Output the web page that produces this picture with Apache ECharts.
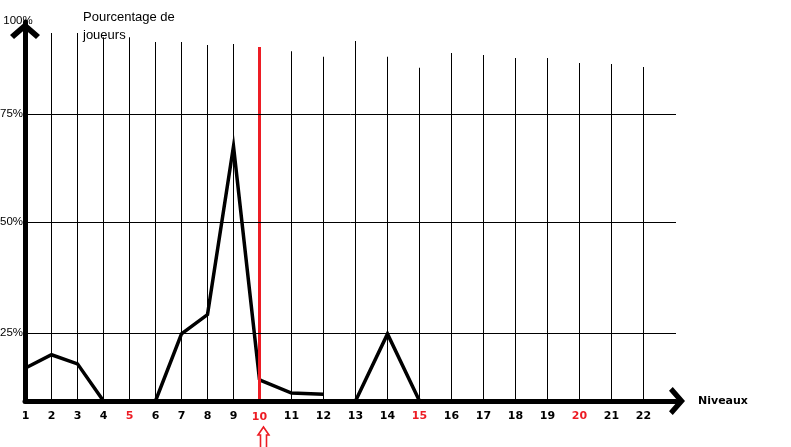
<!DOCTYPE html>
<html>
<head>
<meta charset="utf-8">
<script src="https://cdn.jsdelivr.net/npm/echarts@6/dist/echarts.min.js"></script>
<style>
html,body{margin:0;padding:0;background:#ffffff;}
#chart{width:791px;height:447px;}
</style>
</head>
<body>
<div id="chart"></div>
<script>
// ---- data ----
const levels = [1,2,3,4,5,6,7,8,9,10,11,12,13,14,15,16,17,18,19,20,21,22];
// share of players (vertical units of the drawing, 0..100 = axis foot..top)
const shareOfPlayers = [8.7, 12.2, 9.8, 0, 0, 0, 17.7, 22.8, 67.2, 5.6, 2.1, 1.8, 0, 17.7, 0, null, null, null, null, null, null, null];
const lineBreakAfter = [12];
// height of each hand-drawn vertical guide (level 1 is the axis itself)
const guideTops = [null, 97.1, 97.1, 96.0, 96.0, 94.7, 94.7, 93.9, 94.2, 93.4, 92.3, 90.8, 95.0, 90.8, 87.9, 91.8, 91.3, 90.5, 90.5, 89.2, 88.9, 88.1];
const markedLevel = 10;
const highlightLevels = [5, 10, 15, 20];
const yGuideValues = [17.9, 47.2, 75.7];
const yGuideLabels = ['25%', '50%', '75%'];
const yTopLabel = '100%';
const xName = 'Niveaux';
const titleText = 'Pourcentage de\njoueurs';

// ---- helpers ----
const BLACK = '#000000';
const RED = '#ED1C24';
const firstLevel = levels[0];
const lastLevel = levels[levels.length - 1];

function lineData(from, to) {
  const out = [];
  levels.forEach((lvl, i) => {
    if (lvl < from || lvl > to) return;
    out.push([lvl, shareOfPlayers[i]]);
    if (lineBreakAfter.indexOf(lvl) >= 0 && lvl < to) out.push([lvl, null]);
  });
  return out;
}
function guideData(from, to) {
  const out = [];
  levels.forEach((lvl, i) => {
    if (lvl < from || lvl > to || lvl === markedLevel || guideTops[i] == null) return;
    out.push([lvl, guideTops[i]]);
  });
  return out;
}
const markedTop = guideTops[levels.indexOf(markedLevel)];

// hollow red up-arrow drawn under the marked level's label
const arrowSvg = '<svg xmlns="http://www.w3.org/2000/svg" width="22" height="26" viewBox="0 0 22 26">' +
  '<polygon points="15,3 20.5,11 18,11 18,27 12,27 12,11 9.5,11" fill="#ffffff" stroke="' + RED + '" stroke-width="1.6"/></svg>';
const arrowUrl = 'data:image/svg+xml;charset=utf-8,' + encodeURIComponent(arrowSvg);

const labelStyle = {
  show: true,
  margin: 10,
  fontFamily: 'DejaVu Sans',
  fontWeight: 'bold',
  fontSize: 11,
  color: function (v) { return highlightLevels.indexOf(Number(v)) >= 0 ? RED : BLACK; }
};

const chevronUp = 'path://M15,0 L30,13 L26,17 L15,7.5 L4,17 L0,13 Z';

const chart = echarts.init(document.getElementById('chart'), null, {renderer: 'canvas'});
chart.setOption({
  animation: false,
  backgroundColor: '#ffffff',
  title: {
    text: titleText,
    left: 83,
    top: 8,
    padding: 0,
    textStyle: {fontFamily: 'Liberation Sans', fontSize: 13, fontWeight: 'normal', color: BLACK, lineHeight: 18}
  },
  grid: [
    {left: 25.5, right: 791 - 259.5, top: 22, bottom: 46, outerBoundsMode: 'none', containLabel: false},
    {left: 259.5, right: 791 - 643.5, top: 22, bottom: 46, outerBoundsMode: 'none', containLabel: false},
    {left: 25, right: 115, top: 22, bottom: 46, outerBoundsMode: 'none', containLabel: false}
  ],
  xAxis: [
    {gridIndex: 0, type: 'value', min: firstLevel, max: markedLevel, interval: 1,
     axisLine: {show: false}, axisTick: {show: false}, splitLine: {show: false},
     axisLabel: Object.assign({}, labelStyle, {
       formatter: function (v) { return v === markedLevel ? '{num|' + v + '}\n{arrow|}' : String(v); },
       rich: {
         num: {fontFamily: 'DejaVu Sans', fontWeight: 'bold', fontSize: 11, color: RED, lineHeight: 13},
         arrow: {width: 22, height: 26, align: 'center', backgroundColor: {image: arrowUrl}}
       }
     })},
    {gridIndex: 1, type: 'value', min: markedLevel, max: lastLevel, interval: 1,
     axisLine: {show: false}, axisTick: {show: false}, splitLine: {show: false},
     axisLabel: Object.assign({}, labelStyle, {formatter: function (v) { return v === markedLevel ? '' : String(v); }})},
    {gridIndex: 2, type: 'value', min: 0, max: 1, z: 10,
     name: xName, nameLocation: 'end', nameGap: 22,
     nameTextStyle: {fontFamily: 'DejaVu Sans', fontWeight: 'bold', fontSize: 11, color: BLACK, verticalAlign: 'middle'},
     axisLine: {show: true, lineStyle: {color: BLACK, width: 5}, symbol: ['none', chevronUp], symbolSize: [29, 16], symbolOffset: [0, 1]},
     axisTick: {show: false}, splitLine: {show: false}, axisLabel: {show: false}}
  ],
  yAxis: [
    {gridIndex: 0, type: 'value', min: 0, max: 100, show: false},
    {gridIndex: 1, type: 'value', min: 0, max: 100, show: false},
    {gridIndex: 2, type: 'value', min: 0, max: 100, z: 10,
     name: yTopLabel, nameLocation: 'end', nameGap: 1,
     nameTextStyle: {fontFamily: 'Liberation Sans', fontSize: 11.5, color: BLACK, align: 'center', verticalAlign: 'middle', padding: [0, 14, 0, 0]},
     axisLine: {show: true, lineStyle: {color: BLACK, width: 5}, symbol: ['none', chevronUp], symbolSize: [30, 17], symbolOffset: [0, -8.5]},
     axisTick: {show: false}, splitLine: {show: false}, axisLabel: {show: false}}
  ],
  series: [
    {
      type: 'line', xAxisIndex: 2, yAxisIndex: 2, data: [], z: 1, silent: true,
      markLine: {
        silent: true, symbol: ['none', 'none'], animation: false,
        lineStyle: {color: BLACK, width: 1, type: 'solid'},
        label: {show: true, position: 'start', distance: 2, color: BLACK, fontFamily: 'Liberation Sans', fontSize: 11.5},
        data: yGuideValues.map((v, i) => ({yAxis: v, label: {formatter: yGuideLabels[i]}}))
      }
    },
    {type: 'bar', xAxisIndex: 0, yAxisIndex: 0, barWidth: 1, z: 2, silent: true,
     itemStyle: {color: BLACK}, data: guideData(firstLevel, markedLevel)},
    {type: 'bar', xAxisIndex: 1, yAxisIndex: 1, barWidth: 1, z: 2, silent: true,
     itemStyle: {color: BLACK}, data: guideData(markedLevel, lastLevel)},
    {type: 'line', xAxisIndex: 0, yAxisIndex: 0, z: 3, showSymbol: false, connectNulls: false, silent: true,
     lineStyle: {color: BLACK, width: 3.5, join: 'miter'}, data: lineData(firstLevel, markedLevel)},
    {type: 'line', xAxisIndex: 1, yAxisIndex: 1, z: 3, showSymbol: false, connectNulls: false, silent: true,
     lineStyle: {color: BLACK, width: 3.5, join: 'miter'}, data: lineData(markedLevel, lastLevel)},
    {type: 'line', xAxisIndex: 0, yAxisIndex: 0, z: 4, showSymbol: false, silent: true,
     lineStyle: {color: RED, width: 3}, data: [[markedLevel, 0], [markedLevel, markedTop]]}
  ]
});
</script>
</body>
</html>
